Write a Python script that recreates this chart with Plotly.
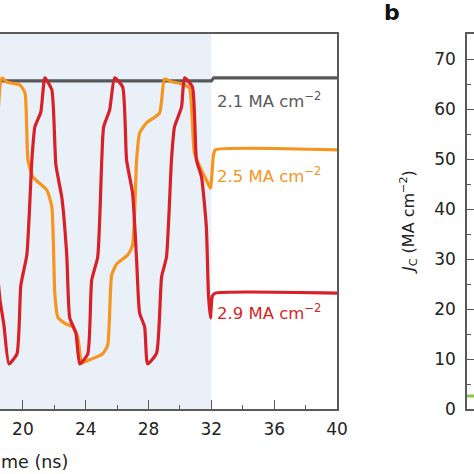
import plotly.graph_objects as go

# 시간 (ns) / 정규화된 신호 — 그림에서 읽은 값
t_21 = [18.3, 32.0, 32.15, 40.0]
m_21 = [0.875, 0.875, 0.883, 0.883]

t_25 = [18.3, 18.67, 18.98, 19.81, 20.13, 20.32, 20.63, 21.52, 21.84, 22.03, 22.22,
        22.73, 23.17, 23.49, 23.75, 24.06, 25.08, 25.40, 25.65, 25.97, 26.67, 26.98,
        27.24, 27.43, 27.87, 28.70, 29.02, 29.52, 30.16, 30.60, 30.92, 31.37, 31.68,
        31.94, 32.13, 32.25, 40.0]
m_25 = [0.70, 0.883, 0.872, 0.864, 0.843, 0.664, 0.619, 0.584, 0.539, 0.309, 0.245,
        0.227, 0.219, 0.192, 0.123, 0.128, 0.147, 0.171, 0.357, 0.387, 0.411, 0.437,
        0.664, 0.736, 0.763, 0.789, 0.880, 0.872, 0.867, 0.856, 0.683, 0.637, 0.611,
        0.589, 0.677, 0.691, 0.691]

t_29 = [18.3, 18.54, 18.79, 19.11, 19.62, 19.87, 20.25, 20.57, 20.76, 21.14, 21.40,
        21.84, 22.10, 22.48, 22.79, 22.98, 23.37, 23.62, 24.13, 24.38, 24.76, 25.02,
        25.14, 25.52, 25.84, 26.35, 26.60, 26.98, 27.24, 27.43, 27.75, 27.94, 28.51,
        28.83, 29.14, 29.46, 29.65, 30.10, 30.29, 30.79, 31.05, 31.37, 31.68, 31.81,
        31.94, 32.06, 32.25, 40.0]
m_29 = [0.40, 0.291, 0.224, 0.120, 0.147, 0.331, 0.411, 0.664, 0.752, 0.792, 0.883,
        0.851, 0.651, 0.563, 0.411, 0.243, 0.203, 0.120, 0.147, 0.344, 0.405, 0.664,
        0.752, 0.797, 0.883, 0.859, 0.664, 0.576, 0.397, 0.256, 0.219, 0.120, 0.149,
        0.352, 0.405, 0.664, 0.752, 0.805, 0.883, 0.859, 0.664, 0.619, 0.485, 0.309,
        0.243, 0.301, 0.309, 0.309]

labels = ["2.1 MA cm<sup>−2</sup>", "2.5 MA cm<sup>−2</sup>", "2.9 MA cm<sup>−2</sup>"]
label_y = [0.824, 0.624, 0.259]
colors = ["#58595b", "#f7941d", "#d91f27"]

pulse_end = 32

# 패널 b
jc_x = [0, 1]
jc_y = [2.6, 2.6]

FONT = "DejaVu Sans, sans-serif"
AX = "#5a5a5a"

fig = go.Figure()

fig.add_trace(go.Scatter(x=t_21, y=m_21, mode="lines", line=dict(color=colors[0], width=3.2)))
fig.add_trace(go.Scatter(x=t_25, y=m_25, mode="lines",
                         line=dict(color=colors[1], width=3.2, shape="spline", smoothing=0.5)))
fig.add_trace(go.Scatter(x=t_29, y=m_29, mode="lines",
                         line=dict(color=colors[2], width=3.2, shape="spline", smoothing=0.5)))
fig.add_trace(go.Scatter(x=jc_x, y=jc_y, mode="lines", line=dict(color="#8dc63f", width=3),
                         xaxis="x2", yaxis="y2"))

# 여기 구간 (음영)
fig.add_shape(type="rect", xref="x", yref="y domain", x0=0, x1=pulse_end, y0=0, y1=1,
              fillcolor="#e9f0f8", line_width=0, layer="below")

for txt, yy, c in zip(labels, label_y, colors):
    fig.add_annotation(x=pulse_end + 0.2, y=yy, xref="x", yref="y", text=txt,
                       showarrow=False, xanchor="left", yanchor="middle",
                       font=dict(size=16.5, color=c, family=FONT))

# paper 좌표: 플롯 영역 기준 (t=34, b=65 -> 높이 375px)
fig.add_annotation(x=26 / 474, y=(409 - 462) / 375, xref="paper", yref="paper",
                   text="Time (ns)", showarrow=False, xanchor="center", yanchor="middle",
                   font=dict(size=17.5, color="#222", family=FONT))
fig.add_annotation(x=408 / 474, y=(409 - 222) / 375, xref="paper", yref="paper",
                   text="<i>J</i><sub>C</sub> (MA cm<sup>−2</sup>)", textangle=-90,
                   showarrow=False, xanchor="center", yanchor="middle",
                   font=dict(size=16, color="#222", family=FONT))
fig.add_annotation(x=392 / 474, y=(409 - 12) / 375, xref="paper", yref="paper",
                   text="<b>b</b>", showarrow=False, xanchor="center", yanchor="middle",
                   font=dict(size=22, color="#111", family=FONT))

fig.update_layout(
    width=474, height=474, autosize=False,
    margin=dict(l=0, r=0, t=34, b=65, autoexpand=False),
    paper_bgcolor="white", plot_bgcolor="white",
    showlegend=False,
    font=dict(family=FONT, size=16, color="#222"),
    xaxis=dict(domain=[0, 337 / 474], range=[18.54, 40], tick0=0, dtick=4,
               ticks="inside", ticklen=9, tickcolor=AX, tickwidth=1.3,
               minor=dict(ticks="inside", ticklen=4, dtick=2, tickcolor=AX),
               showline=True, linecolor=AX, linewidth=1.5, mirror=True,
               showgrid=False, zeroline=False, ticklabelstandoff=4,
               tickfont=dict(size=17)),
    yaxis=dict(domain=[0, 1], range=[0, 1], side="right", showline=True,
               linecolor=AX, linewidth=1.5, ticks="", showticklabels=False,
               showgrid=False, zeroline=False),
    xaxis2=dict(domain=[467 / 474, 1], range=[0, 1], anchor="y2",
                showline=True, linecolor=AX, linewidth=1.5, mirror=True,
                ticks="", showticklabels=False, showgrid=False, zeroline=False),
    yaxis2=dict(domain=[0, 1], range=[0, 75], anchor="x2", dtick=10,
                ticks="inside", ticklen=7, tickcolor=AX, tickwidth=1.3,
                minor=dict(ticks="inside", ticklen=4, dtick=5, tickcolor=AX),
                showline=True, linecolor=AX, linewidth=1.5,
                showgrid=False, zeroline=False, ticklabelstandoff=6,
                tickfont=dict(size=17)),
)

fig.write_html("out.html", config={"responsive": False, "displayModeBar": False},
               post_script="document.body.style.margin='0';")
